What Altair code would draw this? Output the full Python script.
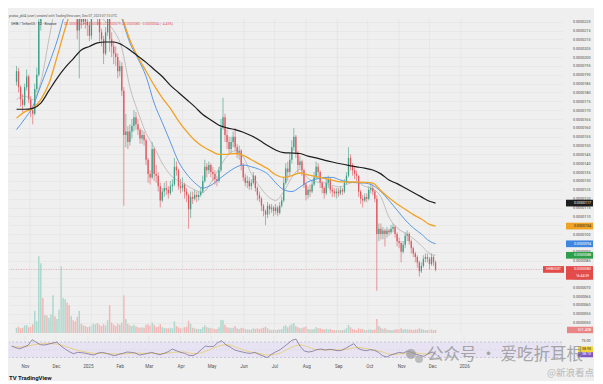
import altair as alt
import pandas as pd

# ---------------- data (prices in millionths of USDT) ----------------
START = "2024-10-19"          # first 2-day candle
FIRST_OPEN = 18.6
closes = [
    19.2, 18.3, 17.6, 17.3, 18.3, 18.9, 17.6, 17.0, 16.8, 18.2,
    19.0, 22.0, 24.5, 24.0, 24.5, 24.0, 24.2, 25.8, 26.5, 24.8,
    25.3, 26.8, 28.0, 29.5, 31.8, 31.0, 27.2, 28.6, 28.0, 27.0,
    21.5, 22.6, 22.0, 23.0, 22.0, 21.8, 21.2, 22.3, 23.4, 23.6,
    22.2, 21.4, 21.0, 20.2, 21.4, 22.2, 21.0, 20.6, 20.2, 20.0,
    19.2, 19.5, 18.1, 15.6, 15.8, 15.2, 15.8, 16.1, 16.6, 16.2,
    15.9, 15.4, 15.6, 15.3, 14.2, 13.4, 13.2, 14.8, 13.4, 13.3,
    12.7, 11.9, 12.4, 12.6, 12.5, 12.3, 12.7, 12.8, 13.8, 13.6,
    12.7, 12.6, 12.8, 12.4, 12.2, 11.4, 12.1, 12.0, 12.2, 12.1,
    12.2, 12.4, 13.0, 13.8, 13.6, 13.9, 13.5, 13.4, 13.1, 13.0,
    13.6, 16.0, 16.6, 15.6, 15.2, 14.8, 15.2, 15.5, 14.9, 14.6,
    14.7, 13.9, 13.2, 12.9, 13.0, 12.7, 12.9, 13.3, 12.6, 12.2,
    12.0, 11.6, 11.3, 11.1, 11.6, 11.4, 11.5, 11.3, 11.5, 11.2,
    11.6, 11.9, 12.9, 13.7, 13.5, 14.2, 14.9, 15.5, 14.6, 13.9,
    14.1, 13.6, 12.8, 12.2, 12.5, 12.4, 12.8, 13.2, 13.8, 13.5,
    12.9, 12.6, 12.3, 12.9, 13.1, 12.5, 12.4, 12.3, 12.4, 12.3,
    12.5, 12.4, 12.9, 13.3, 14.3, 13.9, 13.6, 13.4, 13.3, 12.4,
    12.0, 11.9, 12.1, 12.0, 12.5, 12.6, 12.4, 12.0, 10.0, 10.3,
    10.0, 10.2, 10.0, 10.2, 10.1, 10.3, 10.4, 10.0, 9.6, 9.5,
    9.0, 9.4, 9.9, 10.0, 9.6, 9.2, 8.9, 8.7, 8.4, 7.9,
    8.2, 8.6, 8.7, 8.6, 8.3, 8.7, 8.4, 8.0,
]
highs = [
    19.5, 19.4, 18.4, 17.9, 18.5, 19.3, 19.0, 17.8, 17.2, 18.5,
    19.4, 23.0, 29.0, 25.5, 25.2, 25.0, 25.0, 26.3, 27.5, 26.6,
    25.9, 27.1, 29.0, 30.5, 32.5, 33.1, 31.2, 29.0, 29.2, 28.4,
    27.2, 23.2, 23.0, 23.5, 23.3, 22.3, 22.0, 22.6, 23.8, 24.2,
    23.9, 22.5, 21.6, 21.2, 21.7, 22.8, 22.6, 21.4, 20.9, 20.6,
    20.2, 19.8, 19.7, 18.3, 16.8, 16.1, 16.2, 16.5, 17.0, 16.9,
    16.5, 16.0, 15.9, 15.8, 15.4, 14.3, 13.6, 15.2, 14.9, 13.9,
    13.5, 12.9, 12.6, 12.9, 13.0, 12.7, 13.0, 13.1, 14.3, 14.1,
    13.7, 13.1, 13.2, 12.9, 12.6, 12.3, 12.4, 12.4, 12.5, 12.4,
    12.4, 12.6, 13.3, 14.2, 14.0, 14.1, 14.0, 13.8, 13.6, 13.3,
    13.8, 16.5, 17.7, 16.8, 15.9, 15.5, 15.5, 15.8, 16.0, 15.1,
    15.0, 14.8, 14.0, 13.4, 13.3, 13.2, 13.1, 13.5, 13.3, 12.7,
    12.4, 12.1, 11.7, 11.4, 11.8, 11.7, 11.7, 11.6, 11.7, 11.6,
    11.8, 12.1, 13.2, 14.0, 14.1, 14.6, 15.3, 16.0, 15.6, 14.7,
    14.4, 14.2, 13.7, 12.9, 12.7, 12.8, 13.0, 13.5, 14.1, 14.0,
    13.6, 13.0, 12.7, 13.2, 13.3, 13.2, 12.7, 12.6, 12.6, 12.6,
    12.7, 12.6, 13.1, 13.5, 14.9, 14.5, 14.0, 13.8, 13.6, 13.3,
    12.5, 12.2, 12.3, 12.3, 12.7, 12.9, 12.8, 12.5, 12.2, 10.6,
    10.6, 10.4, 10.3, 10.4, 10.3, 10.5, 10.6, 10.5, 10.1, 9.8,
    9.6, 9.6, 10.1, 10.2, 10.1, 9.7, 9.3, 9.0, 8.8, 8.5,
    8.4, 8.8, 8.9, 8.9, 8.7, 8.9, 8.8, 8.5,
]
lows = [
    18.4, 18.0, 17.2, 16.9, 17.2, 18.1, 17.4, 16.6, 16.2, 16.7,
    18.0, 18.9, 21.5, 23.0, 23.5, 23.2, 23.3, 23.8, 25.4, 24.1,
    24.4, 25.0, 26.2, 27.5, 29.0, 29.8, 25.5, 26.8, 27.5, 26.2,
    21.0, 18.8, 21.6, 21.8, 21.6, 21.2, 20.9, 21.0, 22.2, 23.0,
    21.8, 20.8, 20.6, 19.6, 20.1, 21.2, 20.3, 20.0, 19.6, 19.5,
    18.8, 18.9, 17.8, 11.6, 14.9, 14.8, 15.0, 15.4, 15.8, 15.9,
    15.6, 15.1, 15.1, 15.0, 13.9, 12.9, 12.8, 13.1, 13.0, 12.9,
    12.4, 11.5, 11.8, 12.1, 12.2, 12.0, 12.2, 12.4, 12.7, 13.3,
    12.5, 12.3, 12.4, 12.0, 11.8, 10.3, 10.9, 11.7, 11.9, 11.8,
    11.9, 12.1, 12.3, 12.9, 13.2, 13.4, 13.2, 13.0, 12.8, 12.7,
    12.9, 13.5, 15.9, 15.2, 14.8, 14.5, 14.6, 14.9, 14.7, 14.3,
    14.2, 13.6, 13.0, 12.7, 12.6, 12.5, 12.5, 12.8, 12.4, 11.9,
    11.8, 11.3, 11.0, 10.5, 10.9, 11.1, 11.2, 11.0, 11.1, 11.0,
    11.1, 11.5, 11.8, 12.8, 13.0, 13.3, 14.0, 14.7, 14.3, 13.4,
    13.7, 13.3, 12.6, 11.9, 12.0, 12.1, 12.3, 12.7, 13.1, 13.2,
    12.6, 12.3, 12.0, 12.2, 12.6, 12.3, 12.1, 12.1, 12.0, 12.1,
    12.2, 12.2, 12.3, 12.8, 13.2, 13.6, 13.3, 13.1, 13.0, 12.1,
    11.7, 11.5, 11.8, 11.8, 11.9, 12.3, 12.2, 11.8, 6.8, 9.6,
    9.7, 9.7, 9.3, 9.8, 9.9, 10.0, 10.1, 9.8, 9.3, 9.2,
    8.4, 8.9, 9.2, 9.6, 9.4, 8.9, 8.7, 8.4, 8.1, 7.6,
    7.8, 8.1, 8.4, 8.4, 8.0, 8.2, 8.2, 7.9,
]
volume_t = [  # trillions of SHIB per candle
    0.9, 1.1, 0.8, 0.9, 1.3, 1.4, 1.0, 1.1, 1.5, 3.8,
    2.0, 13.2, 12.0, 6.0, 3.1, 3.0, 2.6, 3.2, 6.5, 2.9,
    2.4, 4.0, 11.5, 6.0, 5.8, 5.2, 4.8, 2.9, 2.2, 2.0,
    2.8, 3.8, 1.6, 1.3, 1.2, 1.0, 1.1, 1.3, 1.6, 1.5,
    1.7, 1.4, 1.2, 1.5, 1.3, 2.2, 4.8, 1.8, 1.4, 1.2,
    1.6, 1.4, 1.8, 6.5, 2.4, 1.6, 1.3, 1.2, 1.4, 1.1,
    1.0, 0.9, 1.0, 0.9, 1.4, 1.5, 1.3, 1.8, 1.4, 1.0,
    1.1, 1.5, 1.0, 0.9, 0.8, 0.8, 0.9, 0.8, 2.0, 1.2,
    1.0, 0.8, 0.9, 1.0, 1.1, 2.1, 1.6, 0.9, 0.8, 0.7,
    0.7, 0.7, 1.0, 1.3, 1.0, 0.9, 0.8, 0.8, 0.7, 0.7,
    1.0, 2.3, 2.2, 1.4, 1.0, 0.9, 0.8, 0.9, 1.2, 0.8,
    0.7, 0.9, 0.8, 0.7, 0.6, 0.6, 0.6, 0.8, 0.7, 0.8,
    0.7, 0.8, 0.9, 1.1, 0.8, 0.6, 0.5, 0.6, 0.5, 0.6,
    0.6, 0.7, 1.2, 1.3, 1.0, 1.3, 1.5, 1.7, 1.2, 1.0,
    0.8, 0.8, 1.0, 1.1, 0.7, 0.6, 0.6, 0.7, 1.0, 0.8,
    0.8, 0.7, 0.6, 0.7, 0.6, 0.7, 0.5, 0.5, 0.5, 0.5,
    0.5, 0.5, 0.6, 0.8, 1.4, 1.0, 0.7, 0.6, 0.5, 0.8,
    0.7, 0.7, 0.5, 0.5, 0.6, 0.6, 0.5, 0.6, 2.4, 1.2,
    0.9, 0.7, 0.8, 0.6, 0.5, 0.5, 0.5, 0.6, 0.7, 0.6,
    0.8, 0.6, 0.7, 0.6, 0.6, 0.6, 0.5, 0.6, 0.6, 0.8,
    0.7, 0.6, 0.5, 0.5, 0.6, 0.6, 0.5, 0.5214,
]

# moving averages, sampled every 8 days from START, plus the last day
MA_LAST_DATE = "2025-12-07"
ma200 = [17.05, 17.05, 17.1, 17.4, 18.1, 18.8, 19.4, 19.9, 20.4, 20.6,
         20.8, 20.85, 20.85, 20.7, 20.4, 20.05, 19.7, 19.3, 18.9, 18.4,
         18.0, 17.6, 17.2, 16.75, 16.45, 16.15, 16.0, 15.9, 15.75, 15.55,
         15.3, 15.0, 14.75, 14.6, 14.58, 14.55, 14.4, 14.3, 14.18, 14.07,
         13.97, 13.88, 13.8, 13.72, 13.62, 13.4, 13.05, 12.85, 12.6, 12.35,
         12.1, 11.85, 11.75]
ma100 = [16.55, 16.9, 17.1, 17.6, 18.5, 20.0, 21.6, 23.0, 24.0, 24.6,
         24.8, 24.5, 23.5, 22.3, 20.97, 20.0, 19.2, 18.4, 17.7, 17.1,
         16.4, 15.8, 15.3, 14.95, 14.7, 14.5, 14.5, 14.55, 14.45, 14.2,
         13.95, 13.7, 13.35, 13.2, 13.3, 13.45, 13.35, 13.25, 13.15, 13.05,
         12.95, 12.94, 12.93, 12.92, 12.88, 12.45, 12.05, 11.7, 11.4, 11.1,
         10.85, 10.55, 10.45]
ma50 = [15.9, 16.5, 17.2, 18.4, 19.6, 20.9, 22.5, 24.0, 25.2, 25.8,
        25.6, 24.8, 23.6, 22.2, 20.8, 19.9, 18.9, 17.4, 16.3, 15.2,
        14.1, 13.4, 12.9, 12.6, 12.75, 13.1, 13.45, 13.75, 13.9, 13.8,
        13.65, 13.4, 12.9, 12.5, 12.4, 12.65, 12.95, 13.1, 13.2, 13.2,
        13.05, 12.94, 12.9, 12.88, 12.75, 12.4, 11.9, 11.35, 10.8, 10.35,
        10.0, 9.6, 9.45]
ma20 = [17.6, 17.8, 17.6, 18.6, 21.0, 23.5, 26.0, 28.5, 27.5, 24.5,
        22.5, 22.0, 21.5, 20.5, 18.3, 16.9, 15.7, 14.9, 14.0, 13.35,
        13.0, 12.75, 12.5, 12.35, 12.9, 13.7, 14.4, 14.7, 14.35, 13.4,
        12.7, 12.15, 11.9, 12.4, 13.2, 13.65, 13.15, 12.95, 12.9, 12.75,
        12.66, 12.85, 12.95, 12.7, 12.55, 12.1, 10.95, 10.35, 10.05, 9.75,
        9.35, 8.9, 8.8]

# RSI every 4 days, RSI-based MA every 8 days
rsi = [59.6, 55.3, 52.7, 57.0, 61.3, 75.9, 69.0, 63.0, 62.2, 64.7,
       67.3, 69.9, 59.6, 51.8, 45.0, 39.8, 43.2, 42.4, 40.7, 38.1,
       36.4, 41.5, 43.2, 40.7, 37.2, 34.6, 38.1, 40.7, 44.1, 43.2,
       41.5, 36.4, 38.1, 40.7, 43.2, 39.8, 37.2, 40.7, 45.0, 51.8,
       47.5, 43.2, 40.7, 35.5, 34.6, 40.7, 50.1, 59.6, 57.9, 58.7,
       68.2, 73.3, 62.2, 57.0, 50.1, 46.7, 44.1, 41.5, 40.7, 43.2,
       38.1, 33.8, 29.5, 38.1, 44.1, 49.3, 57.0, 65.6, 74.2, 77.6,
       58.7, 46.7, 44.1, 45.8, 50.1, 51.8, 49.3, 51.0, 50.1, 47.5,
       48.4, 53.6, 59.6, 65.6, 53.6, 49.3, 47.5, 50.1, 48.4, 43.2,
       34.6, 31.2, 36.4, 39.8, 43.2, 41.5, 46.7, 43.2, 38.9, 35.5,
       32.9, 39.8, 44.1, 38.1]
rsi_ma = [58.7, 57.0, 59.6, 63.9, 65.6, 65.6, 62.2, 55.3, 48.4, 44.1,
          40.7, 40.7, 39.8, 38.9, 39.8, 41.5, 40.7, 40.7, 39.8, 41.5,
          44.1, 44.1, 39.8, 42.4, 50.1, 58.7, 63.0, 58.7, 50.1, 44.1,
          40.7, 36.4, 38.1, 45.8, 57.0, 62.2, 57.0, 50.1, 49.3, 50.1,
          49.3, 52.7, 56.1, 52.7, 49.3, 44.1, 38.1, 38.9, 41.5, 42.4,
          38.9, 38.9]

price_ticks = [5.0, 5.5, 6.0, 6.5, 7.0, 7.5, 8.0, 8.5, 9.0, 9.5, 10.0, 10.5,
               11.0, 11.5, 12.0, 12.5, 13.0, 13.5, 14.0, 14.5, 15.0, 15.5,
               16.0, 16.5, 17.0, 17.5, 18.0, 18.5, 19.0, 19.5, 20.0, 20.5,
               21.0, 21.5, 22.0]
month_ticks = ["2024-11-01", "2024-12-01", "2025-01-01", "2025-02-01", "2025-03-01",
               "2025-04-01", "2025-05-01", "2025-06-01", "2025-07-01", "2025-08-01",
               "2025-09-01", "2025-10-01", "2025-11-01", "2025-12-01", "2026-01-01"]
rsi_ticks = [75]

header_1 = "pratas_pbl4 (user) created with TradingView.com, Dec 07, 2025 07:15 UTC"
header_sym = "SHIB / TetherUS · 1D · Binance"
header_ohlc = "O0.0000084 H0.0000085 L0.0000079 C0.0000080 −0.0000004 (−4.45%)"
countdown = "16:44:59"
symbol_tag = "SHIBUSDT"
watermark = "公众号 · 爱吃折耳根"
watermark_2 = "@新浪看点"
logo = "TradingView"

# ---------------- styling ----------------
W, HT, HR = 553, 314, 24
BG = "#efefef"
GRID = "#e2e2e2"
UP, DOWN = "#3a9f86", "#e0555e"
VOL_UP, VOL_DOWN = "#acd8cd", "#f2b7b5"
FONT = "Roboto"

dates = pd.date_range(START, periods=len(closes), freq="2D")
opens = [FIRST_OPEN] + closes[:-1]
cdf = pd.DataFrame({"date": dates, "open": opens, "high": highs, "low": lows,
                    "close": closes, "vol": volume_t})
cdf["dir"] = ["up" if c >= o else "down" for o, c in zip(opens, closes)]

ma_dates = list(pd.date_range(START, periods=len(ma200) - 1, freq="8D")) + [pd.Timestamp(MA_LAST_DATE)]
rsi_df = pd.DataFrame({"date": pd.date_range(START, periods=len(rsi), freq="4D"), "v": rsi})
rsima_df = pd.DataFrame({"date": pd.date_range(START, periods=len(rsi_ma), freq="8D"), "v": rsi_ma})
months = pd.DataFrame({"d": pd.to_datetime(month_ticks)})

xs = alt.Scale(domain=[alt.DateTime(year=2024, month=10, date=16, hours=12),
                       alt.DateTime(year=2026, month=4, date=6)])
ys = alt.Scale(domain=[4.41, 22.15], nice=False, zero=False)
vs = alt.Scale(domain=[0, 54], nice=False)
rs = alt.Scale(domain=[23.5, 85.5], nice=False, zero=False)
dir_color = alt.Color("dir:N", scale=alt.Scale(domain=["up", "down"], range=[UP, DOWN]), legend=None)
vol_color = alt.Color("dir:N", scale=alt.Scale(domain=["up", "down"], range=[VOL_UP, VOL_DOWN]), legend=None)

PRICE_AXIS = alt.Axis(
    orient="right", values=price_ticks, labelExpr="format(datum.value / 1000000, '.7f')",
    grid=True, gridColor=GRID, gridWidth=0.6, ticks=False, domain=False,
    labelFontSize=3.7, labelColor="#4a4a4a", labelAlign="right", labelPadding=28,
    labelOverlap=False, labelBound=False, labelFlush=False, title=None, labelFont=FONT)
RSI_AXIS = alt.Axis(
    orient="right", values=rsi_ticks, format=".2f", grid=False, ticks=False, domain=False,
    labelFontSize=3.6, labelColor="#4a4a4a", labelAlign="right", labelPadding=28, title=None,
    labelFont=FONT, labelBound=False, labelFlush=False, labelOverlap=False)
month_dt = [alt.DateTime(year=int(s[:4]), month=int(s[5:7]), date=1) for s in month_ticks]
TIME_AXIS = alt.Axis(
    values=month_dt,
    labelExpr="month(datum.value) == 0 ? timeFormat(datum.value, '%Y') : timeFormat(datum.value, '%b')",
    ticks=False, domain=False, grid=False, labelFontSize=4.6, labelColor="#555555",
    labelPadding=3, title=None, labelFont=FONT, labelOverlap=False)


def XP(field="date:T"):
    return alt.X(field, scale=xs, axis=None)


def YP(field):
    return alt.Y(field, scale=ys, axis=PRICE_AXIS)


def XR(field="date:T"):
    return alt.X(field, scale=xs, axis=TIME_AXIS)


def YR(field):
    return alt.Y(field, scale=rs, axis=RSI_AXIS)


def fmt_price(v):
    return f"{v * 1e-6:.7f}"


# ---------------- volume (own scale, bottom of price pane) ----------------
vol_bars = alt.Chart(cdf).mark_bar(size=1.5, clip=True).encode(
    x=XP(), y=alt.Y("vol:Q", scale=vs, axis=None), fill=vol_color)
vdf = pd.DataFrame({"v": [volume_t[-1]], "lab": [f"{volume_t[-1] * 1000:.2f}B"]})
vdf["lo"], vdf["hi"] = vdf["v"] - 0.55, vdf["v"] + 0.55
vol_badge = alt.Chart(vdf).mark_rect(color="#e98585").encode(
    y=alt.Y("lo:Q", scale=vs, axis=None), y2="hi:Q", x=alt.value(W + 5), x2=alt.value(W + 31))
vol_text = alt.Chart(vdf).mark_text(align="right", baseline="middle", fontSize=3.6, color="white", font=FONT).encode(
    y=alt.Y("v:Q", scale=vs, axis=None), x=alt.value(W + 29), text="lab:N")
vol_group = alt.layer(vol_bars, vol_badge, vol_text)

# ---------------- price pane ----------------
vgrid = alt.Chart(months).mark_rule(color=GRID, strokeWidth=0.6).encode(x=XP("d:T"))
wicks = alt.Chart(cdf).mark_rule(strokeWidth=0.6, clip=True).encode(
    x=XP(), y=YP("low:Q"), y2="high:Q", color=dir_color)
bodies = alt.Chart(cdf).mark_bar(size=1.3, clip=True).encode(
    x=XP(), y=YP("open:Q"), y2="close:Q", color=dir_color)

ma_layers = []
for vals, col, w in [(ma20, "#a0a0a0", 0.6), (ma50, "#4a8fe0", 0.9),
                     (ma100, "#f0a225", 1.3), (ma200, "#1c1c1c", 1.2)]:
    d = pd.DataFrame({"date": ma_dates, "v": vals})
    ma_layers.append(alt.Chart(d).mark_line(color=col, strokeWidth=w, clip=True, interpolate="monotone").encode(
        x=XP(), y=YP("v:Q")))

last_df = pd.DataFrame({"v": [closes[-1]]})
last_line = alt.Chart(last_df).mark_rule(color=DOWN, strokeWidth=0.5, strokeDash=[1, 1.5], opacity=0.7).encode(
    y=YP("v:Q"))

bdf = pd.DataFrame({
    "v": [ma200[-1], ma100[-1], ma50[-1], ma20[-1], closes[-1]],
    "bg": ["#1e1e1e", "#f0a225", "#3f86e0", "#2e9e4a", "#e34b4b"],
    "fg": ["#ffffff", "#2a2a2a", "#ffffff", "#ffffff", "#ffffff"],
})
bdf["lab"] = [fmt_price(v) for v in bdf["v"]]
bdf["lo"], bdf["hi"] = bdf["v"] - 0.19, bdf["v"] + 0.19
badge_rects = alt.Chart(bdf).mark_rect().encode(
    y=YP("lo:Q"), y2="hi:Q",
    x=alt.value(W + 4), x2=alt.value(W + 31), fill=alt.Fill("bg:N", scale=None))
badge_texts = alt.Chart(bdf).mark_text(align="right", baseline="middle", fontSize=3.6, font=FONT).encode(
    y=YP("v:Q"), x=alt.value(W + 29), text="lab:N", fill=alt.Fill("fg:N", scale=None))

cd_df = pd.DataFrame({"v": [closes[-1] - 0.36], "lo": [closes[-1] - 0.58], "hi": [closes[-1] - 0.15], "t": [countdown]})
cd_rect = alt.Chart(cd_df).mark_rect(color="#e34b4b").encode(
    y=YP("lo:Q"), y2="hi:Q", x=alt.value(W + 4), x2=alt.value(W + 31))
cd_text = alt.Chart(cd_df).mark_text(align="right", baseline="middle", fontSize=3.4, color="white", font=FONT).encode(
    y=YP("v:Q"), x=alt.value(W + 27), text="t:N")
tag_df = pd.DataFrame({"v": [closes[-1]], "lo": [closes[-1] - 0.19], "hi": [closes[-1] + 0.19], "t": [symbol_tag]})
tag_rect = alt.Chart(tag_df).mark_rect(color="#e34b4b").encode(
    y=YP("lo:Q"), y2="hi:Q", x=alt.value(W - 19), x2=alt.value(W + 2))
tag_text = alt.Chart(tag_df).mark_text(align="center", baseline="middle", fontSize=3.2, color="white", font=FONT).encode(
    y=YP("v:Q"), x=alt.value(W - 8.5), text="t:N")

h1 = alt.Chart(pd.DataFrame({"t": [header_1]})).mark_text(
    align="left", baseline="middle", fontSize=3.3, color="#555555", font=FONT).encode(
    text="t:N", x=alt.value(0), y=alt.value(-3.5))
h2 = alt.Chart(pd.DataFrame({"t": [header_sym]})).mark_text(
    align="left", baseline="middle", fontSize=3.4, color="#333333", font=FONT).encode(
    text="t:N", x=alt.value(2), y=alt.value(5))
h3 = alt.Chart(pd.DataFrame({"t": [header_ohlc]})).mark_text(
    align="left", baseline="middle", fontSize=3.4, color="#e0505a", font=FONT).encode(
    text="t:N", x=alt.value(55), y=alt.value(5))

price_group = alt.layer(vgrid, wicks, bodies, *ma_layers, last_line, badge_rects, badge_texts,
                        cd_rect, cd_text, tag_rect, tag_text, h1, h2, h3)
top = alt.layer(vol_group, price_group).resolve_scale(y="independent").properties(width=W, height=HT)

# ---------------- RSI pane ----------------
rsi_grid = alt.Chart(months).mark_rule(color=GRID, strokeWidth=0.6).encode(x=XR("d:T"))
band_df = pd.DataFrame({"x0": [pd.Timestamp("2024-10-16")], "x1": [pd.Timestamp("2026-04-06")], "hi": [70], "lo": [30]})
band = alt.Chart(band_df).mark_rect(color="#e6e1f2", opacity=0.9).encode(
    x=XR("x0:T"), x2="x1:T", y=YR("hi:Q"), y2="lo:Q")
lv_df = pd.DataFrame({"v": [70, 30]})
levels = alt.Chart(lv_df).mark_rule(color="#a7a0bf", strokeWidth=0.5, strokeDash=[2, 2]).encode(y=YR("v:Q"))
mid = alt.Chart(pd.DataFrame({"v": [50]})).mark_rule(color="#c4bfd6", strokeWidth=0.4, strokeDash=[1, 2]).encode(
    y=YR("v:Q"))
rsima_line = alt.Chart(rsima_df).mark_line(color="#e8c43a", strokeWidth=0.6, interpolate="monotone", clip=True).encode(
    x=XR(), y=YR("v:Q"))
rsi_line = alt.Chart(rsi_df).mark_line(color="#6f6390", strokeWidth=0.7, clip=True).encode(
    x=XR(), y=YR("v:Q"))

rb = pd.DataFrame({"v": [rsi[-1], max(rsi_ma[-1], rsi[-1] + 13)],
                   "lab": [f"{rsi[-1]:.2f}", f"{rsi_ma[-1]:.2f}"],
                   "bg": ["#7e57c2", "#f2d53c"], "fg": ["#ffffff", "#333333"]})
rb["lo"], rb["hi"] = rb["v"] - 7.5, rb["v"] + 7.5
rb_rect = alt.Chart(rb).mark_rect().encode(
    y=YR("lo:Q"), y2="hi:Q", x=alt.value(W + 16), x2=alt.value(W + 31),
    fill=alt.Fill("bg:N", scale=None))
rb_text = alt.Chart(rb).mark_text(align="right", baseline="middle", fontSize=3.6, font=FONT).encode(
    y=YR("v:Q"), x=alt.value(W + 29), text="lab:N", fill=alt.Fill("fg:N", scale=None))

wm_icon = alt.Chart(pd.DataFrame({"k": [0]})).mark_point(
    filled=True, color="#9a9a9a", opacity=0.7, shape="circle").encode(
    x=alt.value(402), y=alt.value(18), size=alt.value(100))
wm_icon2 = alt.Chart(pd.DataFrame({"k": [0]})).mark_point(
    filled=True, color="#a8a8a8", opacity=0.7, shape="circle").encode(
    x=alt.value(410), y=alt.value(23), size=alt.value(65))
wm = alt.Chart(pd.DataFrame({"t": [watermark]})).mark_text(
    align="left", baseline="middle", fontSize=16.5, color="#8e8e8e", opacity=0.75, font="Noto Sans CJK SC").encode(
    text="t:N", x=alt.value(418), y=alt.value(19))
wm2 = alt.Chart(pd.DataFrame({"t": [watermark_2]})).mark_text(
    align="left", baseline="middle", fontSize=9.5, color="#b0b0b0", opacity=0.85, font="Noto Sans CJK SC").encode(
    text="t:N", x=alt.value(538), y=alt.value(37))
logo_mark = alt.Chart(pd.DataFrame({"t": ["TV"]})).mark_text(
    align="left", baseline="middle", fontSize=6, fontWeight="bold", color="#131722", font=FONT).encode(
    text="t:N", x=alt.value(0), y=alt.value(42))
logo_txt = alt.Chart(pd.DataFrame({"t": [logo]})).mark_text(
    align="left", baseline="middle", fontSize=6, fontWeight="bold", color="#131722", font=FONT).encode(
    text="t:N", x=alt.value(9), y=alt.value(42))

bottom = alt.layer(rsi_grid, band, levels, mid, rsima_line, rsi_line, rb_rect, rb_text,
                   wm_icon, wm_icon2, wm, wm2, logo_mark, logo_txt).properties(width=W, height=HR)

chart = alt.vconcat(top, bottom, spacing=1).properties(
    background=BG, padding={"left": 0, "top": 5, "right": 0, "bottom": 0}
).configure_view(stroke=None)

chart.save("out.html", embed_options={"renderer": "svg", "actions": False})
